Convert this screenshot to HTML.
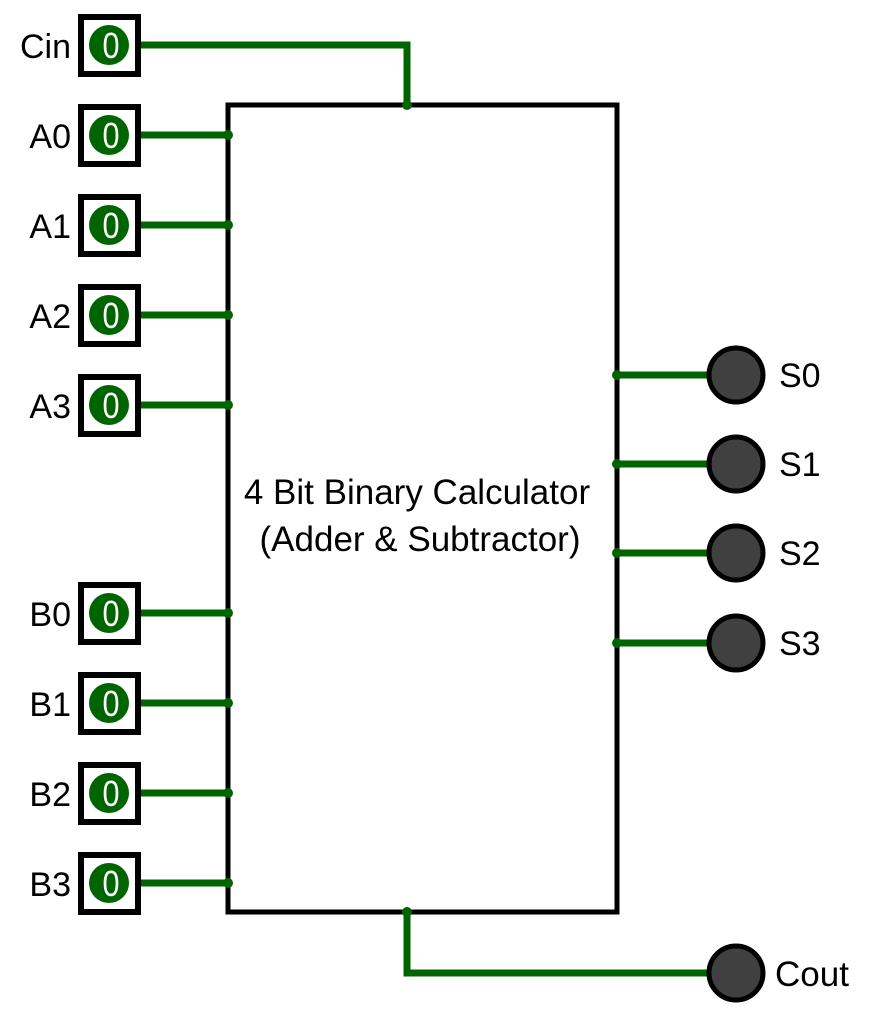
<!DOCTYPE html>
<html><head><style>html,body{margin:0;padding:0;background:#fff}</style></head><body>
<svg width="877" height="1024" viewBox="0 0 877 1024" xmlns="http://www.w3.org/2000/svg" font-family="Liberation Sans, sans-serif">
<rect x="228" y="105" width="389" height="807" fill="none" stroke="#000" stroke-width="5"/>
<g stroke="#006400" stroke-width="7" fill="none">
<polyline points="137,45 407,45 407,105"/>
<line x1="137" y1="135" x2="228" y2="135"/>
<line x1="137" y1="225" x2="228" y2="225"/>
<line x1="137" y1="315" x2="228" y2="315"/>
<line x1="137" y1="405" x2="228" y2="405"/>
<line x1="137" y1="613" x2="228" y2="613"/>
<line x1="137" y1="703" x2="228" y2="703"/>
<line x1="137" y1="793" x2="228" y2="793"/>
<line x1="137" y1="883" x2="228" y2="883"/>
<line x1="617" y1="375" x2="708" y2="375"/>
<line x1="617" y1="464" x2="708" y2="464"/>
<line x1="617" y1="553" x2="708" y2="553"/>
<line x1="617" y1="643" x2="708" y2="643"/>
<polyline points="407,912 407,973 708,973"/>
</g>
<g fill="#006400">
<circle cx="137" cy="45" r="5"/><circle cx="407" cy="105" r="5"/>
<circle cx="228" cy="135" r="5"/><circle cx="228" cy="225" r="5"/><circle cx="228" cy="315" r="5"/><circle cx="228" cy="405" r="5"/>
<circle cx="228" cy="613" r="5"/><circle cx="228" cy="703" r="5"/><circle cx="228" cy="793" r="5"/><circle cx="228" cy="883" r="5"/>
<circle cx="617" cy="375" r="5"/><circle cx="617" cy="464" r="5"/><circle cx="617" cy="553" r="5"/><circle cx="617" cy="643" r="5"/>
<circle cx="407" cy="912" r="5"/>
</g>
<g>
<g transform="translate(0,45)"><rect x="81" y="-28" width="57" height="57" fill="#fff" stroke="#000" stroke-width="6"/><circle cx="109" cy="0" r="20" fill="#006400"/><text x="111" y="13" font-size="36" fill="#fff" text-anchor="middle" transform="translate(111,0) scale(0.85,1) translate(-111,0)">0</text><text x="71" y="13" font-size="34" text-anchor="end">Cin</text></g>
<g transform="translate(0,135)"><rect x="81" y="-28" width="57" height="57" fill="#fff" stroke="#000" stroke-width="6"/><circle cx="109" cy="0" r="20" fill="#006400"/><text x="111" y="13" font-size="36" fill="#fff" text-anchor="middle" transform="translate(111,0) scale(0.85,1) translate(-111,0)">0</text><text x="71" y="13" font-size="34" text-anchor="end">A0</text></g>
<g transform="translate(0,225)"><rect x="81" y="-28" width="57" height="57" fill="#fff" stroke="#000" stroke-width="6"/><circle cx="109" cy="0" r="20" fill="#006400"/><text x="111" y="13" font-size="36" fill="#fff" text-anchor="middle" transform="translate(111,0) scale(0.85,1) translate(-111,0)">0</text><text x="71" y="13" font-size="34" text-anchor="end">A1</text></g>
<g transform="translate(0,315)"><rect x="81" y="-28" width="57" height="57" fill="#fff" stroke="#000" stroke-width="6"/><circle cx="109" cy="0" r="20" fill="#006400"/><text x="111" y="13" font-size="36" fill="#fff" text-anchor="middle" transform="translate(111,0) scale(0.85,1) translate(-111,0)">0</text><text x="71" y="13" font-size="34" text-anchor="end">A2</text></g>
<g transform="translate(0,405)"><rect x="81" y="-28" width="57" height="57" fill="#fff" stroke="#000" stroke-width="6"/><circle cx="109" cy="0" r="20" fill="#006400"/><text x="111" y="13" font-size="36" fill="#fff" text-anchor="middle" transform="translate(111,0) scale(0.85,1) translate(-111,0)">0</text><text x="71" y="13" font-size="34" text-anchor="end">A3</text></g>
<g transform="translate(0,613)"><rect x="81" y="-28" width="57" height="57" fill="#fff" stroke="#000" stroke-width="6"/><circle cx="109" cy="0" r="20" fill="#006400"/><text x="111" y="13" font-size="36" fill="#fff" text-anchor="middle" transform="translate(111,0) scale(0.85,1) translate(-111,0)">0</text><text x="71" y="13" font-size="34" text-anchor="end">B0</text></g>
<g transform="translate(0,703)"><rect x="81" y="-28" width="57" height="57" fill="#fff" stroke="#000" stroke-width="6"/><circle cx="109" cy="0" r="20" fill="#006400"/><text x="111" y="13" font-size="36" fill="#fff" text-anchor="middle" transform="translate(111,0) scale(0.85,1) translate(-111,0)">0</text><text x="71" y="13" font-size="34" text-anchor="end">B1</text></g>
<g transform="translate(0,793)"><rect x="81" y="-28" width="57" height="57" fill="#fff" stroke="#000" stroke-width="6"/><circle cx="109" cy="0" r="20" fill="#006400"/><text x="111" y="13" font-size="36" fill="#fff" text-anchor="middle" transform="translate(111,0) scale(0.85,1) translate(-111,0)">0</text><text x="71" y="13" font-size="34" text-anchor="end">B2</text></g>
<g transform="translate(0,883)"><rect x="81" y="-28" width="57" height="57" fill="#fff" stroke="#000" stroke-width="6"/><circle cx="109" cy="0" r="20" fill="#006400"/><text x="111" y="13" font-size="36" fill="#fff" text-anchor="middle" transform="translate(111,0) scale(0.85,1) translate(-111,0)">0</text><text x="71" y="13" font-size="34" text-anchor="end">B3</text></g>
</g>
<g fill="#404040" stroke="#000" stroke-width="5">
<circle cx="736" cy="375" r="27"/><circle cx="736" cy="464" r="27"/><circle cx="736" cy="553" r="27"/><circle cx="736" cy="643" r="27"/><circle cx="736" cy="973" r="27"/>
</g>
<g font-size="34" fill="#000">
<text x="779" y="387">S0</text><text x="779" y="476">S1</text><text x="779" y="565">S2</text><text x="779" y="655">S3</text><text x="775" y="986" font-size="35">Cout</text>
<text x="417" y="504" text-anchor="middle" font-size="35">4 Bit Binary Calculator</text>
<text x="420" y="551" text-anchor="middle" font-size="35">(Adder &amp; Subtractor)</text>
</g>
</svg>
</body></html>
